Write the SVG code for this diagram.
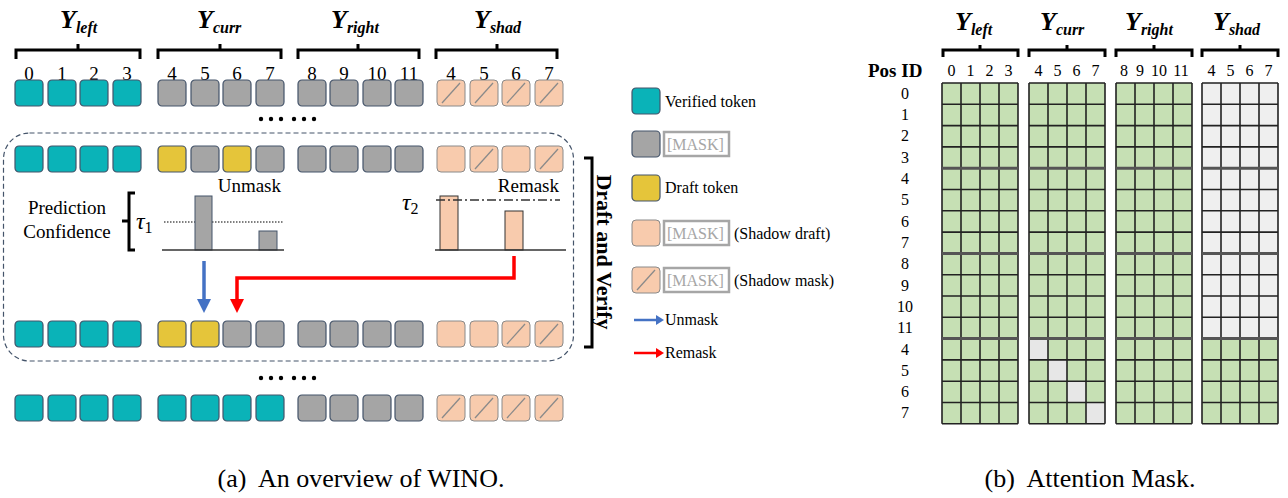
<svg xmlns="http://www.w3.org/2000/svg" width="1288" height="498" viewBox="0 0 1288 498">
<style>
text{font-family:"Liberation Serif",serif;fill:#000}
.hd{font-weight:bold;font-style:italic;font-size:26px}
.sb{font-size:16px}
.num{font-size:19px;text-anchor:middle}
.t{stroke:#44546A;stroke-width:1.2}
.v{fill:#0AB3B8}.m{fill:#A5A5A5}.d{fill:#E5C53A}.s{fill:#F8CBAD;stroke:#8a8a8a}
.br{fill:none;stroke:#000;stroke-width:3}
.lg{font-size:16px}
.mk{font-size:16px;fill:#A6A6A6}
.gl{fill:none;stroke:#222;stroke-width:1.6}
.gt{fill:none;stroke:#555;stroke-width:3}
.rn{font-size:16px;text-anchor:middle}
</style>
<defs>
<rect id="tk" width="28" height="26" rx="4"/>
<g id="sl"><rect width="28" height="26" rx="4" class="s"/><line x1="5" y1="23" x2="23" y2="3" stroke="#8a8a8a" stroke-width="1.3"/></g>
<g id="dots"><circle cx="0" cy="0" r="2.2"/><circle cx="10" cy="0" r="2.2"/><circle cx="20" cy="0" r="2.2"/><circle cx="33" cy="0" r="2.2"/><circle cx="43" cy="0" r="2.2"/><circle cx="53" cy="0" r="2.2"/></g>
<g id="gridl">
<path class="gl" d="M0 0H76M0 21.3H76M0 42.6H76M0 63.9H76M0 106.5H76M0 127.8H76M0 149.1H76M0 191.7H76M0 213H76M0 234.3H76M0 276.9H76M0 298.2H76M0 319.5H76M0 340.8H76M0 0V340.8M19 0V340.8M38 0V340.8M57 0V340.8M76 0V340.8"/>
<path class="gt" d="M0 85.2H76M0 170.4H76M0 255.6H76"/>
</g>
</defs>

<g id="headers-left">
<text class="hd" x="60" y="28">Y<tspan class="sb" dy="5">left</tspan></text>
<text class="hd" x="197" y="28">Y<tspan class="sb" dy="5">curr</tspan></text>
<text class="hd" x="331" y="28">Y<tspan class="sb" dy="5">right</tspan></text>
<text class="hd" x="474" y="28">Y<tspan class="sb" dy="5">shad</tspan></text>
<path class="br" d="M16 59V50H78V44M78 50H140V59M158 59V50H220V44M220 50H281V59M298 59V50H358V44M358 50H419V59M436 59V50H497V44M497 50H557V59"/>
<text class="num" x="29" y="80">0</text><text class="num" x="62" y="80">1</text><text class="num" x="94" y="80">2</text><text class="num" x="127" y="80">3</text>
<text class="num" x="172" y="80">4</text><text class="num" x="205" y="80">5</text><text class="num" x="237" y="80">6</text><text class="num" x="270" y="80">7</text>
<text class="num" x="312" y="80">8</text><text class="num" x="344" y="80">9</text><text class="num" x="377" y="80">10</text><text class="num" x="409" y="80">11</text>
<text class="num" x="451" y="80">4</text><text class="num" x="484" y="80">5</text><text class="num" x="516" y="80">6</text><text class="num" x="549" y="80">7</text>
</g>

<g id="row1">
<use href="#tk" x="15" y="80" class="t v"/><use href="#tk" x="48" y="80" class="t v"/><use href="#tk" x="80" y="80" class="t v"/><use href="#tk" x="113" y="80" class="t v"/>
<use href="#tk" x="158" y="80" class="t m"/><use href="#tk" x="191" y="80" class="t m"/><use href="#tk" x="223" y="80" class="t m"/><use href="#tk" x="256" y="80" class="t m"/>
<use href="#tk" x="298" y="80" class="t m"/><use href="#tk" x="330" y="80" class="t m"/><use href="#tk" x="363" y="80" class="t m"/><use href="#tk" x="395" y="80" class="t m"/>
<use href="#sl" x="437" y="80"/><use href="#sl" x="470" y="80"/><use href="#sl" x="502" y="80"/><use href="#sl" x="535" y="80"/>
</g>
<use href="#dots" x="261" y="119"/>

<rect x="3.5" y="133" width="570" height="228" rx="26" fill="none" stroke="#44546A" stroke-width="1.2" stroke-dasharray="5,3"/>

<g id="row2">
<use href="#tk" x="15" y="146" class="t v"/><use href="#tk" x="48" y="146" class="t v"/><use href="#tk" x="80" y="146" class="t v"/><use href="#tk" x="113" y="146" class="t v"/>
<use href="#tk" x="158" y="146" class="t d"/><use href="#tk" x="191" y="146" class="t m"/><use href="#tk" x="223" y="146" class="t d"/><use href="#tk" x="256" y="146" class="t m"/>
<use href="#tk" x="298" y="146" class="t m"/><use href="#tk" x="330" y="146" class="t m"/><use href="#tk" x="363" y="146" class="t m"/><use href="#tk" x="395" y="146" class="t m"/>
<use href="#tk" x="437" y="146" class="s"/><use href="#sl" x="470" y="146"/><use href="#tk" x="502" y="146" class="s"/><use href="#sl" x="535" y="146"/>
</g>

<g id="chart-unmask">
<text x="67" y="214" font-size="19" text-anchor="middle">Prediction</text>
<text x="67" y="238" font-size="19" text-anchor="middle">Confidence</text>
<path class="br" d="M135 193H129V250H135M129 221H122" stroke-width="2.5"/>
<text x="136" y="229" font-size="24" font-style="italic">τ<tspan font-size="16" dy="4" font-style="normal">1</tspan></text>
<line x1="164" y1="222" x2="284" y2="222" stroke="#000" stroke-width="1.2" stroke-dasharray="1.5,1.5"/>
<rect x="195" y="196" width="17" height="54" fill="#A5A5A5" stroke="#44546A"/>
<rect x="259" y="231" width="18" height="19" fill="#A5A5A5" stroke="#44546A"/>
<line x1="162" y1="250" x2="284" y2="250" stroke="#333" stroke-width="1.5"/>
<text x="281" y="192" font-size="19" text-anchor="end">Unmask</text>
</g>
<g id="chart-remask">
<text x="402" y="210" font-size="24" font-style="italic">τ<tspan font-size="16" dy="4" font-style="normal">2</tspan></text>
<rect x="440" y="196" width="18" height="54" fill="#F8CBAD" stroke="#333"/>
<rect x="505" y="211" width="18" height="39" fill="#F8CBAD" stroke="#333"/>
<line x1="436" y1="200" x2="560" y2="200" stroke="#333" stroke-width="1.5" stroke-dasharray="9,3,2,3"/>
<line x1="435" y1="250" x2="566" y2="250" stroke="#333" stroke-width="1.5"/>
<text x="559" y="192" font-size="19" text-anchor="end">Remask</text>
</g>

<g id="connectors">
<line x1="204" y1="261" x2="204" y2="300" stroke="#4472C4" stroke-width="3.5"/>
<path d="M197 299L211 299L204 313Z" fill="#4472C4"/>
<path d="M514 256V278H237V300" fill="none" stroke="#FF0000" stroke-width="3.5"/>
<path d="M230 299L244 299L237 313Z" fill="#FF0000"/>
</g>

<g id="row3">
<use href="#tk" x="15" y="321" class="t v"/><use href="#tk" x="48" y="321" class="t v"/><use href="#tk" x="80" y="321" class="t v"/><use href="#tk" x="113" y="321" class="t v"/>
<use href="#tk" x="158" y="321" class="t d"/><use href="#tk" x="191" y="321" class="t d"/><use href="#tk" x="223" y="321" class="t m"/><use href="#tk" x="256" y="321" class="t m"/>
<use href="#tk" x="298" y="321" class="t m"/><use href="#tk" x="330" y="321" class="t m"/><use href="#tk" x="363" y="321" class="t m"/><use href="#tk" x="395" y="321" class="t m"/>
<use href="#tk" x="437" y="321" class="s"/><use href="#tk" x="470" y="321" class="s"/><use href="#sl" x="502" y="321"/><use href="#sl" x="535" y="321"/>
</g>
<use href="#dots" x="261" y="378"/>
<g id="row4">
<use href="#tk" x="15" y="395" class="t v"/><use href="#tk" x="48" y="395" class="t v"/><use href="#tk" x="80" y="395" class="t v"/><use href="#tk" x="113" y="395" class="t v"/>
<use href="#tk" x="158" y="395" class="t v"/><use href="#tk" x="191" y="395" class="t v"/><use href="#tk" x="223" y="395" class="t v"/><use href="#tk" x="256" y="395" class="t v"/>
<use href="#tk" x="298" y="395" class="t m"/><use href="#tk" x="330" y="395" class="t m"/><use href="#tk" x="363" y="395" class="t m"/><use href="#tk" x="395" y="395" class="t m"/>
<use href="#sl" x="437" y="395"/><use href="#sl" x="470" y="395"/><use href="#sl" x="502" y="395"/><use href="#sl" x="535" y="395"/>
</g>

<g id="draft-verify">
<path class="br" d="M584 158H592V347H584" stroke-width="2.5"/>
<text transform="translate(597,252) rotate(90)" font-size="22" font-weight="bold" text-anchor="middle">Draft and Verify</text>
</g>

<g id="legend">
<use href="#tk" x="632" y="88" class="t v"/><text class="lg" x="665" y="107">Verified token</text>
<use href="#tk" x="632" y="131" class="t m"/><rect x="664" y="132" width="65" height="24" fill="none" stroke="#A6A6A6" stroke-width="2.5"/><text class="mk" x="667" y="150">[MASK]</text>
<use href="#tk" x="632" y="175" class="t d"/><text class="lg" x="665" y="193">Draft token</text>
<use href="#tk" x="632" y="220" class="s"/><rect x="664" y="221" width="65" height="24" fill="none" stroke="#A6A6A6" stroke-width="2.5"/><text class="mk" x="667" y="239">[MASK]</text><text class="lg" x="734" y="239">(Shadow draft)</text>
<use href="#sl" x="632" y="267"/><rect x="664" y="268" width="65" height="24" fill="none" stroke="#A6A6A6" stroke-width="2.5"/><text class="mk" x="667" y="286">[MASK]</text><text class="lg" x="734" y="286">(Shadow mask)</text>
<line x1="634" y1="320" x2="657" y2="320" stroke="#4472C4" stroke-width="2.5"/><path d="M656 315L664 320L656 325Z" fill="#4472C4"/><text class="lg" x="665" y="325">Unmask</text>
<line x1="634" y1="353" x2="657" y2="353" stroke="#FF0000" stroke-width="2.5"/><path d="M656 348L664 353L656 358Z" fill="#FF0000"/><text class="lg" x="665" y="358">Remask</text>
</g>

<text x="361" y="487" font-size="26" text-anchor="middle" xml:space="preserve">(a)  An overview of WINO.</text>
<text x="1090" y="487" font-size="26" text-anchor="middle" xml:space="preserve">(b)  Attention Mask.</text>

<g id="mask-headers">
<text class="hd" x="955" y="30" font-size="24">Y<tspan class="sb" dy="5">left</tspan></text>
<text class="hd" x="1040" y="30" font-size="24">Y<tspan class="sb" dy="5">curr</tspan></text>
<text class="hd" x="1125" y="30" font-size="24">Y<tspan class="sb" dy="5">right</tspan></text>
<text class="hd" x="1213" y="30" font-size="24">Y<tspan class="sb" dy="5">shad</tspan></text>
<path class="br" stroke-width="2.5" d="M943 57V50H980V45M980 50H1018V57M1029 57V50H1067V45M1067 50H1105V57M1116 57V50H1154V45M1154 50H1192V57M1202 57V50H1240V45M1240 50H1278V57"/>
<text x="868" y="77" font-size="19" font-weight="bold" font-family="Liberation Sans Narrow,Liberation Sans,sans-serif">Pos ID</text>
<g class="rn">
<text x="951.5" y="76">0</text><text x="970.5" y="76">1</text><text x="989.5" y="76">2</text><text x="1008.5" y="76">3</text>
<text x="1038.5" y="76">4</text><text x="1057.5" y="76">5</text><text x="1076.5" y="76">6</text><text x="1095.5" y="76">7</text>
<text x="1124" y="76">8</text><text x="1140" y="76">9</text><text x="1159" y="76">10</text><text x="1181" y="76">11</text>
<text x="1211.5" y="76">4</text><text x="1230.5" y="76">5</text><text x="1249.5" y="76">6</text><text x="1268.5" y="76">7</text>
</g>
<g class="rn">
<text x="905" y="99">0</text><text x="905" y="120">1</text><text x="905" y="141">2</text><text x="905" y="163">3</text>
<text x="905" y="184">4</text><text x="905" y="205">5</text><text x="905" y="227">6</text><text x="905" y="248">7</text>
<text x="905" y="269">8</text><text x="905" y="291">9</text><text x="905" y="312">10</text><text x="905" y="333">11</text>
<text x="905" y="355">4</text><text x="905" y="376">5</text><text x="905" y="397">6</text><text x="905" y="418">7</text>
</g>
</g>
<g id="mask-grid">
<rect x="942" y="83" width="76" height="340.8" fill="#C6E0B4"/>
<rect x="1029" y="83" width="76" height="340.8" fill="#C6E0B4"/>
<rect x="1116" y="83" width="76" height="340.8" fill="#C6E0B4"/>
<rect x="1202" y="83" width="76" height="255.6" fill="#EFEFEF"/>
<rect x="1202" y="338.6" width="76" height="85.2" fill="#C6E0B4"/>
<rect x="1029" y="338.6" width="19" height="21.3" fill="#E7E7E7"/>
<rect x="1048" y="359.9" width="19" height="21.3" fill="#E7E7E7"/>
<rect x="1067" y="381.2" width="19" height="21.3" fill="#E7E7E7"/>
<rect x="1086" y="402.5" width="19" height="21.3" fill="#E7E7E7"/>
<use href="#gridl" x="942" y="83"/>
<use href="#gridl" x="1029" y="83"/>
<use href="#gridl" x="1116" y="83"/>
<use href="#gridl" x="1202" y="83"/>
</g>
</svg>
